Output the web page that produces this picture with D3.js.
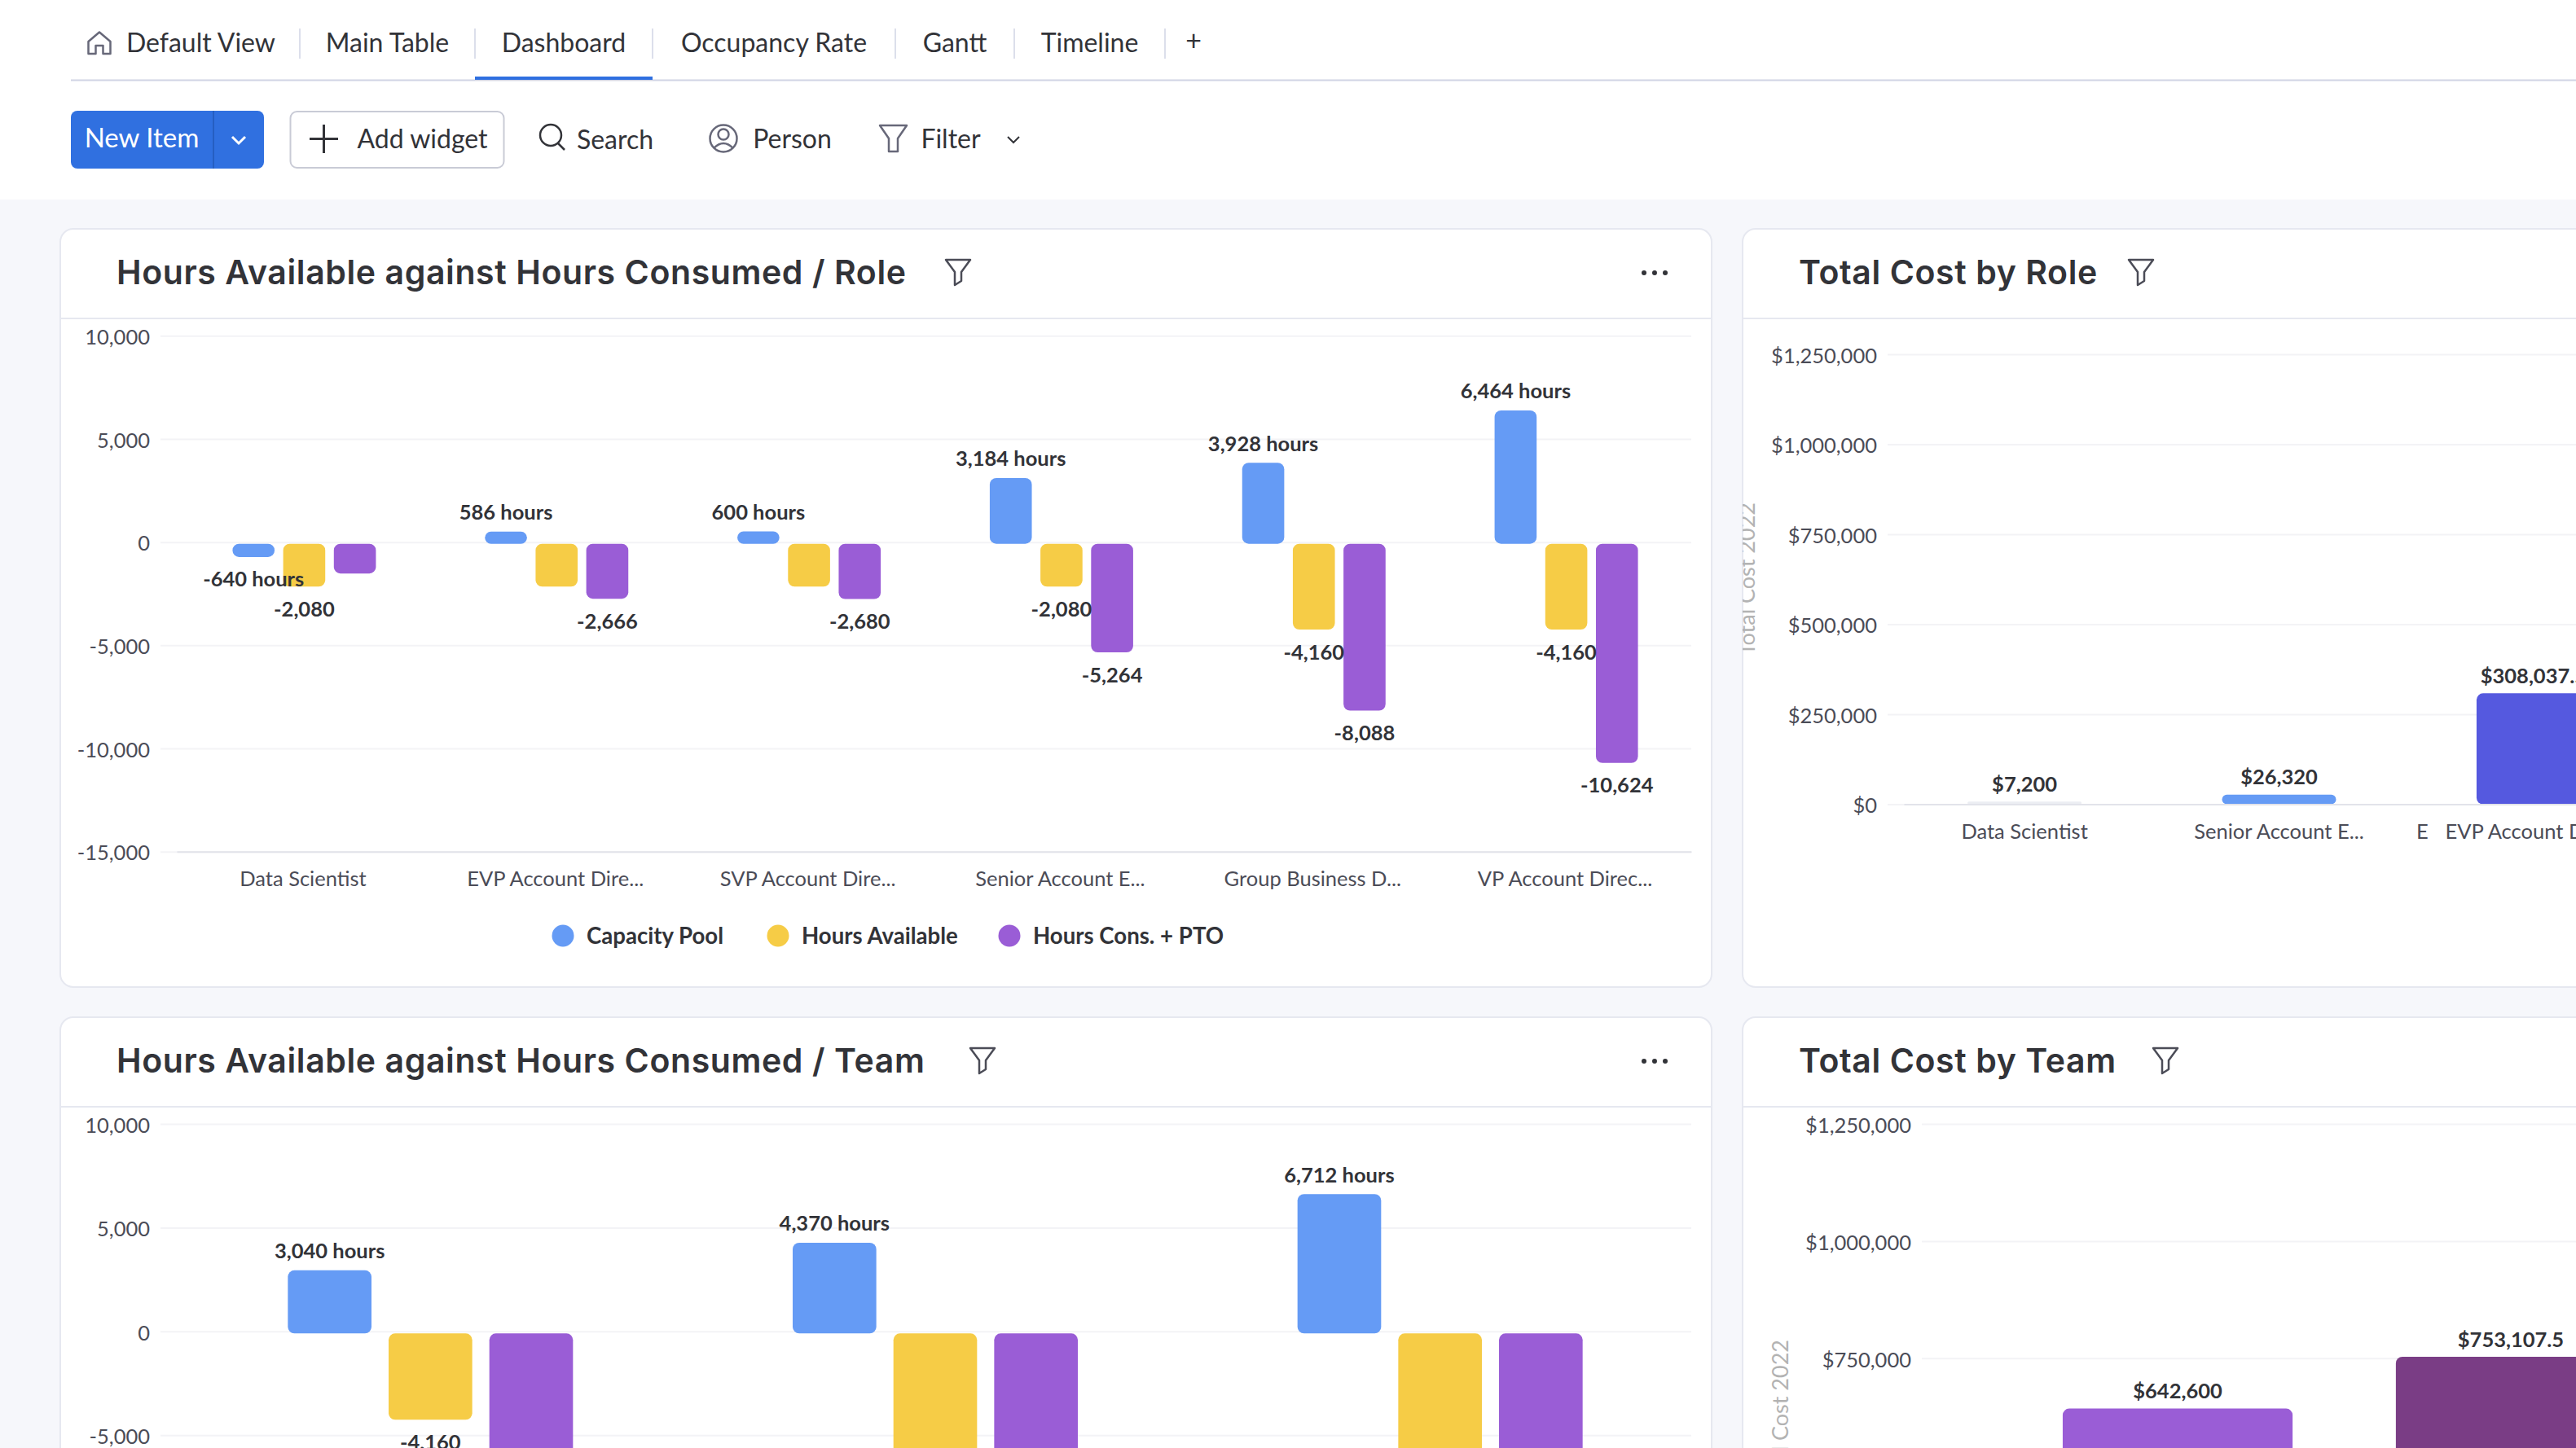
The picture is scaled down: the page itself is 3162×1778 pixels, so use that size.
<!DOCTYPE html>
<html>
<head>
<meta charset="utf-8">
<script src="https://cdn.jsdelivr.net/npm/d3@7"></script>
<style>
  html, body { margin: 0; padding: 0; background: #fff; overflow: hidden; }
  svg { display: block; }
  text { font-family: Lato, sans-serif; fill: #323338; }
  .title { font-family: Inter, sans-serif; font-weight: 600; font-size: 41px; letter-spacing: 0.6px; }
  .tick line { stroke: #f3f3f6; stroke-width: 2; }
  .tick text { font-size: 25.5px; fill: #4b4c57; }
  .domain { stroke: #e2e3ea; stroke-width: 2; }
  .label { font-size: 25.5px; font-weight: 700; text-anchor: middle; }
</style>
</head>
<body>
<svg id="page" width="3162" height="1778"></svg>
<script>
// tabs and toolbar
const tabs = ["Main Table", "Dashboard", "Occupancy Rate", "Gantt", "Timeline"];
const tabSeparators = [368, 583, 801, 1099, 1245, 1430];

// shared series
const seriesNames = ["Capacity Pool", "Hours Available", "Hours Cons. + PTO"];
const seriesColors = ["#659bf5", "#f6cc46", "#9a5dd6"];
const hoursTicks = [10000, 5000, 0, -5000, -10000, -15000];
const costTicks = [1250000, 1000000, 750000, 500000, 250000, 0];

// hours by role
const roleCategories = ["Data Scientist", "EVP Account Dire...", "SVP Account Dire...", "Senior Account E...", "Group Business D...", "VP Account Direc..."];
const roleCapacity = [-640, 586, 600, 3184, 3928, 6464];
const roleAvailable = [-2080, -2080, -2080, -2080, -4160, -4160];
const roleConsumed = [-1440, -2666, -2680, -5264, -8088, -10624];

// hours by team, the team names and the lower bars are cut off by the screenshot so those are guesses
const teamCategories = ["Team 1", "Team 2", "Team 3"];
const teamCapacity = [3040, 4370, 6712];
const teamAvailable = [-4160, -6240, -8320];
const teamConsumed = [-7200, -10610, -15032];

// cost by role
const costRoleCategories = ["Data Scientist", "Senior Account E...", "EVP Account Dire..."];
const costRoleValues = [7200, 26320, 308037.5];
const costRoleColors = ["#eceef3", "#659bf5", "#5559df"];

// cost by team, first category name is below the crop as well
const costTeamCategories = ["Team 1", "Team 2"];
const costTeamValues = [642600, 753107.5];
const costTeamColors = ["#9a5dd6", "#7a3d85"];

const svg = d3.select("#page");
const fmt = d => d3.format(",")(d).replace("\u2212", "-");
const fmtCost = d3.format("$,");
const pageHeight = 1778;

// backgrounds
svg.append("rect").attr("width", 3162).attr("height", 1778).attr("fill", "#fff");
svg.append("rect").attr("y", 245).attr("width", 3162).attr("height", 1533).attr("fill", "#f6f7fb");

// tab bar
svg.append("line").attr("x1", 87).attr("x2", 3162).attr("y1", 98.5).attr("y2", 98.5).attr("stroke", "#d0d4e4").attr("stroke-width", 2);
svg.append("rect").attr("x", 583).attr("y", 94).attr("width", 218).attr("height", 4).attr("fill", "#2f6fe0");
svg.selectAll(".sep").data(tabSeparators).enter().append("line")
    .attr("x1", d => d).attr("x2", d => d).attr("y1", 35).attr("y2", 72)
    .attr("stroke", "#d0d4e4").attr("stroke-width", 1.5);
svg.selectAll(".tab").data(tabs).enter().append("text")
    .attr("x", (d, i) => (tabSeparators[i] + tabSeparators[i + 1]) / 2)
    .attr("y", 64).attr("text-anchor", "middle").attr("font-size", 32).text(d => d);
svg.append("text").attr("x", 155).attr("y", 64).attr("font-size", 32).text("Default View");
svg.append("text").attr("x", 1465).attr("y", 62).attr("text-anchor", "middle").attr("font-size", 34).text("+");
svg.append("path").attr("d", "M108.5,51 L122,39.5 L135.5,51 V66 H126.5 V56 H117.5 V66 H108.5 Z")
    .attr("fill", "none").attr("stroke", "#676879").attr("stroke-width", 2.5).attr("stroke-linejoin", "round");

// toolbar
svg.append("rect").attr("x", 87).attr("y", 136).attr("width", 237).attr("height", 71).attr("rx", 8).attr("fill", "#3070e0");
svg.append("line").attr("x1", 262).attr("x2", 262).attr("y1", 136).attr("y2", 207).attr("stroke", "#2259b8").attr("stroke-width", 1.5);
svg.append("text").attr("x", 174).attr("y", 181).attr("text-anchor", "middle").attr("font-size", 33).style("fill", "#fff").text("New Item");
svg.append("path").attr("d", "M285,168 L293,176 L301,168").attr("fill", "none").attr("stroke", "#fff").attr("stroke-width", 3);
svg.append("rect").attr("x", 356.5).attr("y", 137).attr("width", 262).attr("height", 69).attr("rx", 8).attr("fill", "#fff").attr("stroke", "#c9cbd6").attr("stroke-width", 2);
svg.append("path").attr("d", "M380,170.5 H415 M397.5,153 V188").attr("stroke", "#323338").attr("stroke-width", 3);
svg.append("text").attr("x", 518.5).attr("y", 182).attr("text-anchor", "middle").attr("font-size", 32).text("Add widget");
svg.append("circle").attr("cx", 676).attr("cy", 166).attr("r", 13).attr("fill", "none").attr("stroke", "#323338").attr("stroke-width", 2.5);
svg.append("line").attr("x1", 685).attr("y1", 176).attr("x2", 693).attr("y2", 184).attr("stroke", "#323338").attr("stroke-width", 2.5);
svg.append("text").attr("x", 755).attr("y", 183).attr("text-anchor", "middle").attr("font-size", 32).text("Search");
svg.append("circle").attr("cx", 888).attr("cy", 170).attr("r", 16.5).attr("fill", "none").attr("stroke", "#676879").attr("stroke-width", 2.5);
svg.append("circle").attr("cx", 888).attr("cy", 165).attr("r", 6.5).attr("fill", "none").attr("stroke", "#676879").attr("stroke-width", 2.5);
svg.append("path").attr("d", "M876,182 Q888,170 900,182").attr("fill", "none").attr("stroke", "#676879").attr("stroke-width", 2.5);
svg.append("text").attr("x", 972.5).attr("y", 182).attr("text-anchor", "middle").attr("font-size", 32).text("Person");
svg.append("path").attr("d", "M1080,154 H1113 L1102,170 V186 H1091 V170 Z").attr("fill", "none").attr("stroke", "#676879").attr("stroke-width", 2.5).attr("stroke-linejoin", "round");
svg.append("text").attr("x", 1167).attr("y", 182).attr("text-anchor", "middle").attr("font-size", 32).text("Filter");
svg.append("path").attr("d", "M1237,168 L1244,175 L1251,168").attr("fill", "none").attr("stroke", "#323338").attr("stroke-width", 2);

function card(x, y, width, height, title, filterX, showDots) {
    const id = "clip" + x + "-" + y;
    svg.append("clipPath").attr("id", id).append("rect").attr("x", x).attr("y", y).attr("width", width).attr("height", height).attr("rx", 16);
    svg.append("rect").attr("x", x).attr("y", y).attr("width", width).attr("height", height).attr("rx", 16)
        .attr("fill", "#fff").attr("stroke", "#e6e8f0").attr("stroke-width", 2);
    svg.append("line").attr("x1", x).attr("x2", x + width).attr("y1", y + 110).attr("y2", y + 110).attr("stroke", "#e6e8f0").attr("stroke-width", 2);
    svg.append("text").attr("class", "title").attr("x", x + 69).attr("y", y + 68).text(title);
    svg.append("path").attr("transform", `translate(${filterX},${y + 38})`)
        .attr("d", "M-15,0 H15 L4,15 V26 L-4,31 V15 Z")
        .attr("fill", "none").attr("stroke", "#4b4c57").attr("stroke-width", 2.5).attr("stroke-linejoin", "round");
    if (showDots) {
        svg.selectAll(null).data([2018, 2031, 2044]).enter().append("circle")
            .attr("cx", d => d).attr("cy", y + 54).attr("r", 3).attr("fill", "#323338");
    }
    return id;
}

// rounded bar between the zero line and the value
function bar(g, x, width, y0, y1, color) {
    const h = Math.abs(y1 - y0);
    g.append("rect").attr("x", x).attr("y", Math.min(y0, y1)).attr("width", width).attr("height", h)
        .attr("rx", Math.min(8, h / 2)).attr("fill", color);
}

function hoursChart(categories, values, yRange, groupWidth, hiddenLabels, barShift) {
    const x0 = d3.scaleBand().domain(categories).range([218.5, 2077.5]);
    const x1 = d3.scaleBand().domain(seriesNames).range([0, groupWidth]).paddingInner(0.17);
    const y = d3.scaleLinear().domain([-15000, 10000]).range(yRange);

    const g = svg.append("g");
    g.append("g").attr("transform", "translate(197,0)")
        .call(d3.axisLeft(y).tickValues(hoursTicks.filter(t => y(t) < pageHeight)).tickFormat(fmt).tickSize(-1879).tickPadding(13))
        .call(a => a.select(".domain").remove())
        .selectAll("text").attr("dy", "0.4em");

    // the bars sit a little under the zero gridline in the original
    categories.forEach((cat, c) => {
        const left = x0(cat) + (x0.bandwidth() - groupWidth) / 2;
        seriesNames.forEach((s, k) => {
            bar(g, left + x1(s), x1.bandwidth(), y(0) + barShift, y(values[k][c]) + barShift, seriesColors[k]);
        });
    });
    // labels go on top of all the bars
    categories.forEach((cat, c) => {
        const left = x0(cat) + (x0.bandwidth() - groupWidth) / 2;
        seriesNames.forEach((s, k) => {
            const v = values[k][c];
            const cy = (v > 0 ? y(v) - 24 : y(v) + 27) + barShift;
            if (cy > 1785 || hiddenLabels.includes(cat + "/" + s)) return;
            g.append("text").attr("class", "label")
                .attr("x", left + x1(s) + x1.bandwidth() / 2).attr("y", cy + 9.5)
                .text(k === 0 ? fmt(v) + " hours" : fmt(v));
        });
    });
    return { g, x0, y };
}

function costChart(categories, values, colors, axisLeft, yRange, xRange, inner, outer, clipId, titleX, titleEndY) {
    const x = d3.scaleBand().domain(categories).range(xRange).paddingInner(inner).paddingOuter(outer);
    const y = d3.scaleLinear().domain([0, 1250000]).range(yRange);
    const g = svg.append("g");
    g.append("g").attr("transform", `translate(${axisLeft - 20},0)`)
        .call(d3.axisLeft(y).tickValues(costTicks.filter(t => y(t) < pageHeight)).tickFormat(fmtCost).tickSize(-1200).tickPadding(13))
        .call(a => a.select(".domain").remove())
        .selectAll("text").attr("dy", "0.4em");
    categories.forEach((cat, i) => {
        bar(g, x(cat), x.bandwidth(), y(0), y(values[i]), colors[i]);
        g.append("text").attr("class", "label")
            .attr("x", x(cat) + x.bandwidth() / 2).attr("y", y(values[i]) - 22 + 9.5)
            .text(fmtCost(values[i]));
    });
    svg.append("g").attr("clip-path", `url(#${clipId})`).append("text")
        .attr("transform", `translate(${titleX},${titleEndY}) rotate(-90)`)
        .attr("text-anchor", "end").attr("font-size", 27).style("fill", "#b3b3b3")
        .text("Total Cost 2022");
    return { g, x, y };
}

// first row
card(74, 281, 2027, 931, "Hours Available against Hours Consumed / Role", 1176, true);
const roleHidden = ["Data Scientist/Hours Cons. + PTO", "EVP Account Dire.../Hours Available", "SVP Account Dire.../Hours Available"];
const roleChart = hoursChart(roleCategories, [roleCapacity, roleAvailable, roleConsumed], [1045.7, 412.3], 176, roleHidden, 2);
roleChart.g.append("g").attr("transform", "translate(0,1045.7)")
    .call(d3.axisBottom(roleChart.x0.copy().range([217, 2076])).tickSize(0).tickSizeOuter(0).tickPadding(24));

// legend
const legendX = [691, 955, 1239];
seriesNames.forEach((s, i) => {
    svg.append("circle").attr("cx", legendX[i]).attr("cy", 1149).attr("r", 13.5).attr("fill", seriesColors[i]);
    svg.append("text").attr("x", legendX[i] + 29).attr("y", 1159).attr("font-size", 27.6).attr("font-weight", 700).text(s);
});

const clipRole = card(2139, 281, 1300, 931, "Total Cost by Role", 2628, false);
const costRole = costChart(costRoleCategories, costRoleValues, costRoleColors, 2337, [987.5, 435], [2337, 3258], 0.552, 0.25, clipRole, 2154, 617);
costRole.g.append("g").attr("transform", "translate(0,987.5)")
    .call(d3.axisBottom(costRole.x).tickSize(0).tickSizeOuter(0).tickPadding(24));
// sliver of a label hidden behind the EVP tick in the original
costRole.g.append("text").attr("x", 2966).attr("y", 1030).attr("font-size", 25.5).style("fill", "#4b4c57").text("E");

// second row runs off the bottom of the page
card(74, 1249, 2027, 700, "Hours Available against Hours Consumed / Team", 1206, true);
hoursChart(teamCategories, [teamCapacity, teamAvailable, teamConsumed], [2017, 1380], 350, [], 2.5);

const clipTeam = card(2139, 1249, 1300, 700, "Total Cost by Team", 2658, false);
costChart(costTeamCategories, costTeamValues, costTeamColors, 2379, [2099.5, 1380], [2379, 3376], 0.31, 0.374, clipTeam, 2195, 1645);
</script>
</body>
</html>
